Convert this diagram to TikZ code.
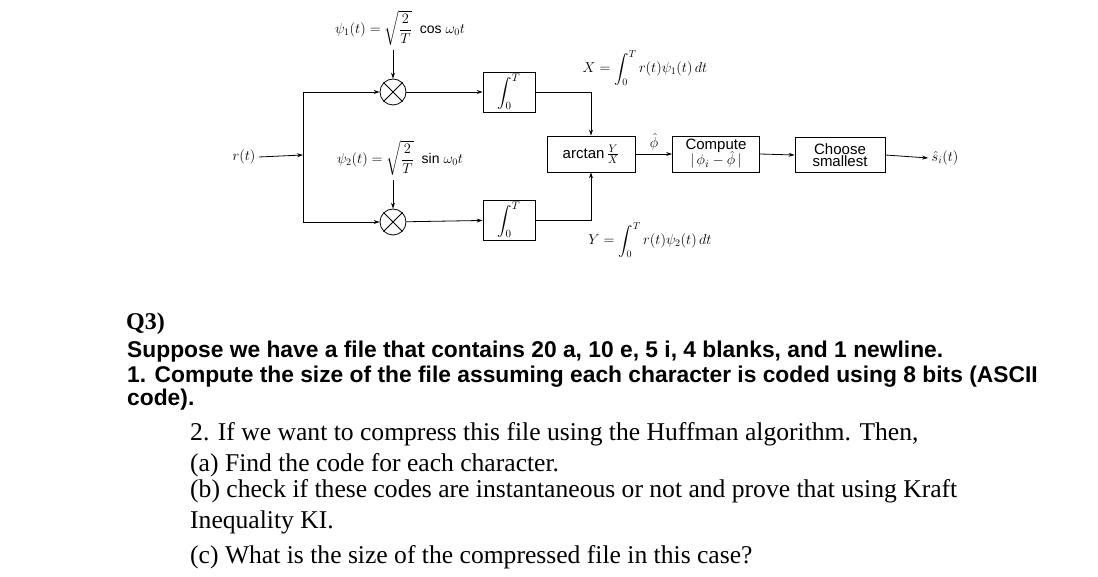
\documentclass[tikz,border=0pt]{standalone}
\usepackage{amsmath}
\usepackage{fontspec}
\setmainfont{Liberation Serif}
\setsansfont{Liberation Sans}
\usetikzlibrary{arrows.meta}
\begin{document}
\begin{tikzpicture}[x=1pt,y=-1pt,
  blk/.style={draw,line width=0.8pt,inner sep=2pt,font=\sffamily\fontsize{15}{15}\selectfont,align=center},
  mult/.style={draw,circle,minimum size=26pt,inner sep=0pt,line width=0.8pt},
  lbl/.style={font=\fontsize{14}{14}\selectfont},
  ln/.style={line width=0.8pt,-{Stealth[length=6pt,width=4pt]}},
  pl/.style={line width=0.8pt},
  qs/.style={anchor=base west,inner sep=0pt,font=\sffamily\bfseries\fontsize{22.8}{23}\selectfont},
  qt/.style={anchor=base west,inner sep=0pt,font=\fontsize{25.6}{31}\selectfont}]
\useasboundingbox (0,0) rectangle (1098,577);
\node[lbl] (rt) at (244,157) {$r(t)$};
\coordinate (bus) at (303,155);
\coordinate (b1) at (303,92);
\coordinate (b2) at (303,222);
\node[mult] (m1) at (393,92) {};
\node[mult] (m2) at (393,222) {};
\draw[pl] (m1.north west)--(m1.south east) (m1.north east)--(m1.south west);
\draw[pl] (m2.north west)--(m2.south east) (m2.north east)--(m2.south west);
\node[lbl] (p1) at (400,28) {$\psi_1(t)=\sqrt{\dfrac{2}{T}}\;\;\textsf{cos}\;\omega_0 t$};
\node[lbl] (p2) at (400,158) {$\psi_2(t)=\sqrt{\dfrac{2}{T}}\;\;\textsf{sin}\;\omega_0 t$};
\coordinate (a1) at (393,50);
\coordinate (a2) at (393,180);
\node[blk,minimum width=52pt,minimum height=40pt] (i1) at (509,92) {$\displaystyle\int_0^T$};
\node[blk,minimum width=52pt,minimum height=40pt] (i2) at (509,220) {$\displaystyle\int_0^T$};
\node[blk,minimum width=88pt,minimum height=36pt] (at) at (591,154) {arctan\,$\frac{Y}{X}$};
\node[blk,minimum width=87pt,minimum height=36pt,inner sep=1pt] (cp) at (716,154) {Compute\\[-3pt]$|\,\phi_i-\hat\phi\,|$};
\node[blk,minimum width=90pt,minimum height=35pt] (ch) at (840,155) {Choose\\[-3pt]smallest};
\node[lbl] (out) at (945,158) {$\hat{s}_i(t)$};
\node[lbl] (ph) at (654,142) {$\hat\phi$};
\node[lbl] (X) at (645,68) {$X=\displaystyle\int_0^T r(t)\psi_1(t)\,dt$};
\node[lbl] (Y) at (650,240) {$Y=\displaystyle\int_0^T r(t)\psi_2(t)\,dt$};
\draw[ln] (rt.east)--(bus);
\draw[pl] (b1)--(b2);
\draw[ln] (b1)--(m1);
\draw[ln] (b2)--(m2);
\draw[ln] (a1)--(m1);
\draw[ln] (a2)--(m2);
\draw[ln] (m1)--(i1);
\draw[ln] (m2)--(i2);
\draw[ln] (i1.east)-|(at.north);
\draw[ln] (i2.east)-|(at.south);
\draw[ln] (at.east)--(cp.west);
\draw[ln] (cp.east)--(ch.west);
\draw[ln] (ch.east)--(out.west);
\node[anchor=base west,inner sep=0pt,font=\bfseries\fontsize{24}{24}\selectfont] (q) at (126,330) {Q3)};
\node[qs] (s1) at (127,357) {Suppose we have a file that contains 20 a, 10 e, 5 i, 4 blanks, and 1 newline.};
\node[qs] (s2) at (127,382) {1. Compute the size of the file assuming each character is coded using 8 bits (ASCII};
\node[qs] (s3) at (127,405) {code).};
\node[qt] (t1) at (190,440) {2. If we want to compress this file using the Huffman algorithm. Then,};
\node[qt] (t2) at (190,471) {(a) Find the code for each character.};
\node[anchor=north west,inner sep=0pt,text width=863pt,align=justify,font=\fontsize{25.6}{31}\selectfont] (t3) at (190,479) {(b) check if these codes are instantaneous or not and prove that using Kraft\\ Inequality KI.};
\node[qt] (t5) at (190,563) {(c) What is the size of the compressed file in this case?};
\end{tikzpicture}
\end{document}
